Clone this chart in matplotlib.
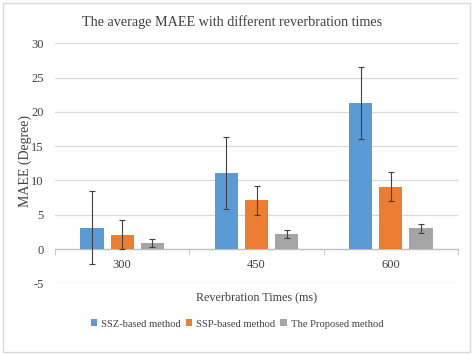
import numpy as np
import matplotlib
matplotlib.use('Agg')
import matplotlib.pyplot as plt
from matplotlib.patches import Rectangle

plt.rcParams['font.family'] = ['Liberation Serif', 'DejaVu Serif']
plt.rcParams['axes.unicode_minus'] = False

# --- data ---
categories = ['300', '450', '600']
series_names = ['SSZ-based method', 'SSP-based method', 'The Proposed method']
ssz_mean = [3.1, 11.1, 21.3]
ssp_mean = [2.1, 7.1, 9.1]
prop_mean = [0.85, 2.2, 3.0]
ssz_err = [5.3, 5.3, 5.3]
ssp_err = [2.1, 2.1, 2.1]
prop_err = [0.6, 0.6, 0.6]
colors = ['#5B9BD5', '#ED7D31', '#A5A5A5']

W, H = 474, 355
fig = plt.figure(figsize=(W / 100, H / 100), dpi=100)
ax = fig.add_axes([55 / W, 1 - 283.3 / H, (458 - 55) / W, (283.3 - 43.3) / H])

x = np.arange(len(categories))
bw = 0.172
step = 0.2246
means = [ssz_mean, ssp_mean, prop_mean]
errs = [ssz_err, ssp_err, prop_err]
for i, (m, e, c, name) in enumerate(zip(means, errs, colors, series_names)):
    ax.bar(x + (i - 1) * step, m, width=bw, color=c, label=name, zorder=2,
           yerr=e, capsize=2, error_kw=dict(ecolor='#404040', elinewidth=0.8, capthick=0.8, zorder=3))

ax.set_xlim(-0.5, 2.5)
ax.set_ylim(-5, 30)
ax.set_yticks(np.arange(-5, 31, 5))
ax.yaxis.grid(True, color='#d9d9d9', linewidth=0.9, zorder=0)
ax.set_axisbelow(True)

for s in ['left', 'right', 'top']:
    ax.spines[s].set_visible(False)
ax.spines['bottom'].set_position(('data', 0))
ax.spines['bottom'].set_color('#bfbfbf')
ax.spines['bottom'].set_linewidth(0.9)
ax.spines['bottom'].set_zorder(1)

ax.set_xticks(x)
ax.set_xticklabels(categories)
ax.set_xticks([-0.5, 0.5, 1.5, 2.5], minor=True)
ax.tick_params(axis='x', which='major', length=0, pad=7, labelsize=9, labelcolor='#404040')
ax.tick_params(axis='x', which='minor', length=4, color='#bfbfbf', direction='out')
ax.tick_params(axis='y', length=0, pad=8, labelsize=9, labelcolor='#404040')

fig.text(25 / W, 1 - 161 / H, 'MAEE (Degree)', rotation=90, ha='center', va='center',
         fontsize=10, color='#404040')
fig.text(257 / W, 1 - 297 / H, 'Reverbration Times (ms)', ha='center', va='center',
         fontsize=8.7, color='#404040')
fig.text(232 / W, 1 - 22 / H, 'The average MAEE with different reverbration times',
         ha='center', va='center', fontsize=10.2, color='#404040')

fig.legend(loc='center', bbox_to_anchor=(237 / W, 1 - 324 / H), ncol=3, frameon=False,
           fontsize=7.6, handlelength=0.6, handleheight=0.6, handletextpad=0.35,
           columnspacing=0.5, labelcolor='#404040')

fig.patches.append(Rectangle((3 / W, 3 / H), 467 / W, 349 / H, transform=fig.transFigure,
                             fill=False, edgecolor='#d9d9d9', linewidth=1))

fig.savefig('out.png', dpi=100)
